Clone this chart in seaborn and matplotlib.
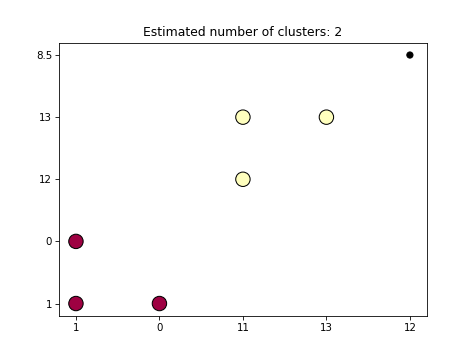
import matplotlib
matplotlib.use("Agg")
import matplotlib.pyplot as plt
import seaborn as sns
import pandas as pd

x_vals = ["1", "1", "0", "11", "11", "13", "12"]
y_vals = ["1", "0", "1", "12", "13", "13", "8.5"]
labels = ["0", "0", "0", "1", "1", "1", "-1"]
kind = ["core", "core", "core", "core", "core", "core", "noise"]

df = pd.DataFrame({"x": x_vals, "y": y_vals, "label": labels, "kind": kind})

spectral = matplotlib.colormaps["Spectral"]
palette = {"0": spectral(0.0), "1": spectral(0.5), "-1": (0, 0, 0, 1)}
sizes = {"core": 196, "noise": 36}

DPI = 474 / 6.4
fig, ax = plt.subplots(figsize=(6.4, 355 / DPI), dpi=DPI)
sns.scatterplot(data=df, x="x", y="y", hue="label", palette=palette,
                size="kind", sizes=sizes, edgecolor="k", linewidth=1,
                legend=False, ax=ax)
ymin, ymax = ax.get_ylim()
if ymin > ymax:
    ax.set_ylim(ymax, ymin)
ax.set_xlabel("")
ax.set_ylabel("")
ax.set_title("Estimated number of clusters: 2")
fig.savefig("out.png", dpi=DPI)
